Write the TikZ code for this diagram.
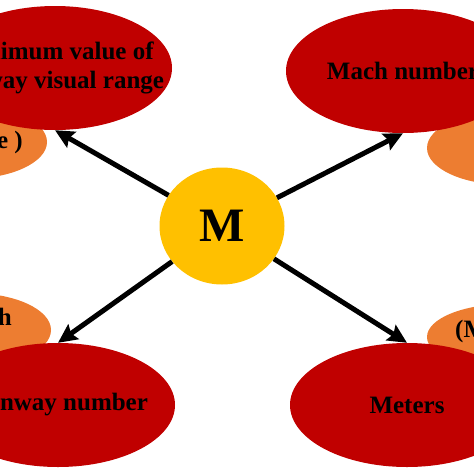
\documentclass[tikz,border=0pt]{standalone}
\usepackage{fontspec}
\setmainfont{Liberation Serif}
\usepackage{tikz}
\usetikzlibrary{shapes.geometric}
\usetikzlibrary{arrows.meta}
\definecolor{darkred}{HTML}{C00000}
\definecolor{paleorange}{HTML}{ED7D31}
\definecolor{gold}{HTML}{FFC000}

\begin{document}
\begin{tikzpicture}[x=1pt,y=-1pt,
        big/.style={ellipse,fill=darkred,minimum width=234pt,minimum height=124pt,inner sep=0pt},
        small/.style={ellipse,fill=paleorange,minimum width=160pt,minimum height=74pt,inner sep=0pt},
        lbl/.style={font=\fontsize{25}{29}\selectfont\bfseries,inner sep=0pt,align=center},
        arr/.style={line width=5pt,-{Stealth[length=19pt,width=18pt,inset=3pt]}}]
            \useasboundingbox (0,0) rectangle (474,474);
            \clip (0,0) rectangle (474,474);

            \node[small] (otl) at (-33,142) {};
            \node[small] (otr) at (507,148) {};
            \node[small] (obl) at (-29,330) {};
            \node[small,minimum height=66pt] (obr) at (507,337) {};

            \node[lbl,anchor=base east] (etl) at (23,148) {e )};
            \node[lbl,anchor=base east] (ebl) at (12,325) {h};
            \node[lbl,anchor=base west] (ebr) at (455,337) {(M};

            \node[big] (tl) at (55,68) {};
            \node[big] (tr) at (403,71) {};
            \node[big] (bl) at (58,405) {};
            \node[big] (br) at (407,405) {};

            \node[lbl] (ttl) at (tl) {Minimum value of\\runway visual range};
            \node[lbl] (ttr) at (tr) {Mach number};
            \node[lbl] (tbl) at (bl) {Runway number};
            \node[lbl] (tbr) at (br) {Meters};

            \node[ellipse,fill=gold,minimum width=125pt,minimum height=117pt,inner sep=0pt,font=\fontsize{48}{48}\selectfont\bfseries] (m) at (222,226) {M};

            \draw[arr] (m) -- (tl.south);
            \draw[arr] (m) -- (tr.south);
            \draw[arr] (m) -- (bl.north);
            \draw[arr] (m) -- (br.north);
        \end{tikzpicture}
\end{document}
